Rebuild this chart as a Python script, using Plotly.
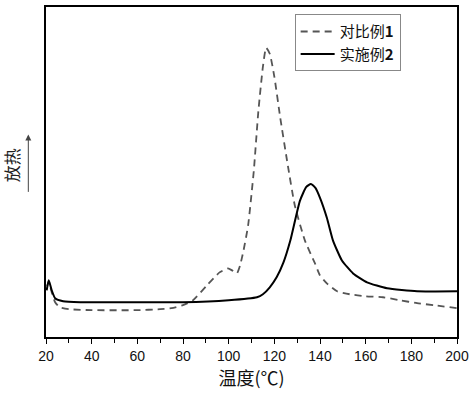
import plotly.graph_objects as go

# Temperature (°C) and relative heat flow (arbitrary units)
temp_cmp1 = [20.5, 21.2, 22.5, 24, 26, 30, 40, 60, 70, 75, 80, 84.4, 90.5, 96, 99.7, 101.5, 103.6,
             105, 106.5, 108.5, 111, 113, 115, 116.4, 118, 120, 122.5, 125.6, 129, 133.4, 137.8,
             140, 143, 147.5, 153, 160, 167.6, 175, 182.5, 190, 200]
heat_cmp1 = [51, 56, 45, 35, 30, 28, 27, 27, 28, 29, 32, 37, 52, 65, 69, 67, 64,
             72, 87, 112, 167, 227, 272, 291, 285, 262, 222, 177, 132, 97, 74,
             62, 54, 46, 43, 41, 40, 37, 34, 32, 29]

temp_ex2 = [20.3, 21.2, 22.5, 24, 27.5, 35, 60, 80, 100, 112.4, 115, 118, 121, 124, 127, 131.2,
            134, 136, 138, 140, 143, 145.7, 149.6, 154.5, 160.6, 169.4, 182.5, 200]
heat_ex2 = [47, 57, 47, 39, 36, 35, 35, 35, 37, 40, 43, 50, 60, 75, 97, 137,
            151, 154, 150, 140, 120, 97, 77, 64, 55, 49, 46, 46]

x_ticks = [20, 40, 60, 80, 100, 120, 140, 160, 180, 200]

fig = go.Figure()
fig.add_trace(go.Scatter(x=temp_cmp1, y=heat_cmp1, mode="lines", name="对比例<b>1</b>",
                         line=dict(color="#555555", width=1.8, dash="7px,5px", shape="spline", smoothing=0.5)))
fig.add_trace(go.Scatter(x=temp_ex2, y=heat_ex2, mode="lines", name="实施例<b>2</b>",
                         line=dict(color="#000000", width=2, shape="spline", smoothing=0.5)))

fig.update_layout(
    width=474, height=396,
    margin=dict(l=46, r=17, t=5, b=59),
    paper_bgcolor="white", plot_bgcolor="white",
    font=dict(family="Noto Sans CJK SC, Arial, Liberation Sans", color="#111111"),
    showlegend=True,
    legend=dict(x=0.605, y=0.978, xanchor="left", yanchor="top",
                bordercolor="#888888", borderwidth=1, bgcolor="white",
                font=dict(size=15, family="Noto Sans CJK SC"),
                tracegroupgap=0, itemwidth=34),
    xaxis=dict(range=[20, 200], tickvals=x_ticks, ticks="outside", ticklen=5, tickwidth=1.2,
               tickcolor="black",
               minor=dict(dtick=10, ticks="outside", ticklen=4, tickwidth=1.2, tickcolor="black"),
               showline=True, linecolor="black", linewidth=1.8, mirror=True, showgrid=False,
               zeroline=False,
               tickfont=dict(family="Liberation Sans, Arial", size=14, color="#111111"),
               title=dict(text="温度(℃)", font=dict(size=18, family="Noto Sans CJK SC"), standoff=10)),
    yaxis=dict(range=[0, 332], showticklabels=False, ticks="", showline=True, linecolor="black",
               linewidth=1.8, mirror=True, showgrid=False, zeroline=False),
)

fig.add_annotation(xref="paper", yref="paper", x=-0.083, y=0.52, xanchor="center", yanchor="middle",
                   text="放热", showarrow=False,
                   textangle=-90, font=dict(size=17, family="Noto Sans CJK SC", color="#222222"))
fig.add_annotation(xref="paper", yref="paper", x=-0.043, y=0.614, ax=0, ay=59,
                   axref="pixel", ayref="pixel", text="", showarrow=True, arrowhead=2,
                   arrowsize=1.2, arrowwidth=1, arrowcolor="#444444")

fig.write_html("out.html", config={"displayModeBar": False},
               post_script="document.body.style.margin='0';document.body.style.padding='0';")
